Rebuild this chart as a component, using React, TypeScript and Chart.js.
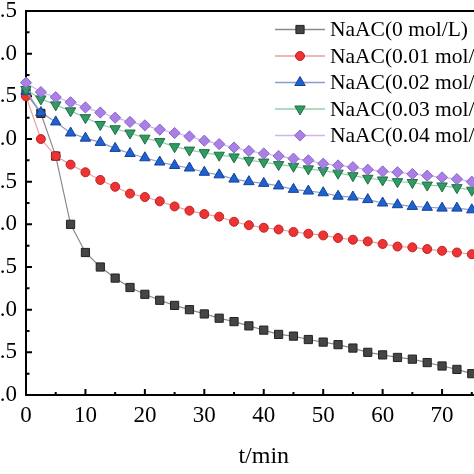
import React, { useEffect, useRef } from "react";
import { Chart, registerables } from "chart.js";

Chart.register(...registerables);

const times = [0, 2.5, 5, 7.5, 10, 12.5, 15, 17.5, 20, 22.5, 25, 27.5, 30, 32.5, 35, 37.5, 40, 42.5, 45, 47.5, 50, 52.5, 55, 57.5, 60, 62.5, 65, 67.5, 70, 72.5, 75];

const seriesNames = ["NaAC(0 mol/L)", "NaAC(0.01 mol/L)", "NaAC(0.02 mol/L)", "NaAC(0.03 mol/L)", "NaAC(0.04 mol/L)"];

const naac0 = [3.54, 3.30, 2.80, 2.00, 1.67, 1.50, 1.37, 1.26, 1.18, 1.11, 1.05, 1.00, 0.95, 0.90, 0.86, 0.81, 0.76, 0.71, 0.69, 0.65, 0.62, 0.59, 0.55, 0.50, 0.47, 0.44, 0.42, 0.38, 0.34, 0.30, 0.25];
const naac001 = [3.50, 3.00, 2.80, 2.70, 2.61, 2.52, 2.44, 2.36, 2.32, 2.27, 2.21, 2.16, 2.12, 2.09, 2.03, 1.99, 1.96, 1.94, 1.91, 1.89, 1.87, 1.84, 1.82, 1.80, 1.77, 1.74, 1.73, 1.71, 1.69, 1.67, 1.65];
const naac002 = [3.56, 3.31, 3.20, 3.07, 3.01, 2.96, 2.89, 2.83, 2.78, 2.73, 2.69, 2.66, 2.61, 2.58, 2.53, 2.50, 2.48, 2.45, 2.41, 2.39, 2.37, 2.33, 2.32, 2.29, 2.25, 2.23, 2.21, 2.20, 2.19, 2.19, 2.17];
const naac003 = [3.58, 3.47, 3.40, 3.33, 3.25, 3.17, 3.12, 3.07, 3.01, 2.97, 2.91, 2.87, 2.84, 2.81, 2.79, 2.75, 2.73, 2.70, 2.68, 2.65, 2.63, 2.60, 2.57, 2.54, 2.52, 2.50, 2.49, 2.46, 2.45, 2.43, 2.40];
const naac004 = [3.66, 3.55, 3.49, 3.43, 3.37, 3.31, 3.25, 3.20, 3.16, 3.11, 3.07, 3.03, 2.98, 2.94, 2.90, 2.86, 2.83, 2.80, 2.77, 2.75, 2.71, 2.69, 2.67, 2.64, 2.62, 2.61, 2.59, 2.57, 2.55, 2.53, 2.50];

const xTickMax = 80;
const yTickMax = 4.5;

const FONT = "'Liberation Serif', 'Times New Roman', serif";

const styles = [
  { fill: "#454545", border: "#222222", line: "#8a8a8a", point: "rect", radius: 5.8, rotation: 0 },
  { fill: "#ec3434", border: "#c42020", line: "#eaa0a0", point: "circle", radius: 4.5, rotation: 0 },
  { fill: "#1d62d2", border: "#173f95", line: "#8c9cc4", point: "triangle", radius: 6, rotation: 0 },
  { fill: "#2f9c62", border: "#1f6e46", line: "#96cfae", point: "triangle", radius: 6, rotation: 180 },
  { fill: "#a980e4", border: "#8f63cc", line: "#cdb6ec", point: "rectRot", radius: 5.6, rotation: 0 },
];

const seriesValues = [naac0, naac001, naac002, naac003, naac004];

function drawMarker(ctx: CanvasRenderingContext2D, kind: string, rot: number, x: number, y: number, r: number) {
  ctx.beginPath();
  if (kind === "rect") {
    const s = Math.SQRT1_2 * r;
    ctx.rect(x - s, y - s, 2 * s, 2 * s);
  } else if (kind === "circle") {
    ctx.arc(x, y, r, 0, Math.PI * 2);
  } else if (kind === "triangle") {
    let a = (rot * Math.PI) / 180;
    ctx.moveTo(x + Math.sin(a) * r, y - Math.cos(a) * r);
    a += (2 * Math.PI) / 3;
    ctx.lineTo(x + Math.sin(a) * r, y - Math.cos(a) * r);
    a += (2 * Math.PI) / 3;
    ctx.lineTo(x + Math.sin(a) * r, y - Math.cos(a) * r);
    ctx.closePath();
  } else if (kind === "rectRot") {
    ctx.moveTo(x - r, y);
    ctx.lineTo(x, y - r);
    ctx.lineTo(x + r, y);
    ctx.lineTo(x, y + r);
    ctx.closePath();
  }
  ctx.fill();
  ctx.stroke();
}

const framePlugin = {
  id: "frameTicks",
  beforeDatasetsDraw(chart: any) {
    const { ctx, chartArea, scales } = chart;
    const { left, right, top, bottom } = chartArea;
    const xs = scales.x;
    const ys = scales.y;
    ctx.save();
    ctx.strokeStyle = "#000";
    ctx.lineWidth = 2;
    ctx.strokeRect(left, top, right - left, bottom - top);
    ctx.beginPath();
    const xt = xs.ticks.map((t: any) => t.value);
    xt.forEach((v: number, i: number) => {
      const px = xs.getPixelForValue(v);
      ctx.moveTo(px, bottom);
      ctx.lineTo(px, bottom - 6);
      if (i < xt.length - 1) {
        const pm = xs.getPixelForValue((v + xt[i + 1]) / 2);
        ctx.moveTo(pm, bottom);
        ctx.lineTo(pm, bottom - 3);
      }
    });
    const yt = ys.ticks.map((t: any) => t.value);
    yt.forEach((v: number, i: number) => {
      const py = ys.getPixelForValue(v);
      ctx.moveTo(left, py);
      ctx.lineTo(left + 6, py);
      if (i < yt.length - 1) {
        const pm = ys.getPixelForValue((v + yt[i + 1]) / 2);
        ctx.moveTo(left, pm);
        ctx.lineTo(left + 3.5, pm);
      }
    });
    ctx.stroke();
    ctx.restore();
  },
  afterDraw(chart: any) {
    const { ctx } = chart;
    const lx0 = 315;
    const lx1 = 365;
    const tx = 370;
    const y0 = 29.5;
    const dy = 26.5;
    ctx.save();
    chart.data.datasets.forEach((ds: any, i: number) => {
      const st = styles[i];
      const y = y0 + i * dy;
      ctx.strokeStyle = st.line;
      ctx.lineWidth = 1.5;
      ctx.beginPath();
      ctx.moveTo(lx0, y);
      ctx.lineTo(lx1, y);
      ctx.stroke();
      ctx.fillStyle = st.fill;
      ctx.strokeStyle = st.border;
      ctx.lineWidth = 1;
      drawMarker(ctx, st.point, st.rotation, (lx0 + lx1) / 2, y, st.radius);
      ctx.fillStyle = "#000";
      ctx.font = `21.5px ${FONT}`;
      ctx.textBaseline = "middle";
      ctx.textAlign = "left";
      ctx.fillText(ds.label, tx, y + 1);
    });
    ctx.restore();
  },
};

export default function App() {
  const ref = useRef<HTMLCanvasElement | null>(null);

  useEffect(() => {
    if (!ref.current) return;
    const datasets = seriesValues.map((vals, i) => ({
      label: seriesNames[i],
      data: vals.map((v, j) => ({ x: times[j], y: v })),
      borderColor: styles[i].line,
      borderWidth: 1.2,
      backgroundColor: styles[i].fill,
      pointBackgroundColor: styles[i].fill,
      pointBorderColor: styles[i].border,
      pointBorderWidth: 1,
      pointStyle: styles[i].point,
      pointRotation: styles[i].rotation,
      pointRadius: styles[i].radius,
      pointHoverRadius: styles[i].radius,
      tension: 0,
      fill: false,
      clip: false as any,
      order: 5 - i,
    }));
    const chart = new Chart(ref.current, {
      type: "line",
      data: { datasets },
      plugins: [framePlugin],
      options: {
        animation: false,
        responsive: false,
        maintainAspectRatio: false,
        layout: { padding: { top: 11, right: 18, left: 0, bottom: 0 } },
        plugins: { legend: { display: false }, tooltip: { enabled: false }, title: { display: false } },
        scales: {
          x: {
            type: "linear",
            min: 0,
            max: xTickMax,
            grid: { display: false, drawTicks: false },
            border: { display: false },
            ticks: {
              stepSize: 10,
              padding: 7,
              color: "#000",
              font: { family: FONT, size: 23 },
              maxRotation: 0,
            },
            title: {
              display: true,
              text: "t/min",
              color: "#000",
              font: { family: FONT, size: 24 },
              padding: { top: 0, bottom: 3 },
            },
            afterFit(scale: any) {
              scale.height = 79;
            },
          },
          y: {
            type: "linear",
            min: 0,
            max: yTickMax,
            grid: { display: false, drawTicks: false },
            border: { display: false },
            ticks: {
              stepSize: 0.5,
              padding: 9,
              color: "#000",
              font: { family: FONT, size: 23, lineHeight: 0.1 },
              callback: (v: any) => Number(v).toFixed(1),
            },
            afterFit(scale: any) {
              scale.width = 66;
            },
          },
        },
      },
    });
    return () => chart.destroy();
  }, []);

  return (
    <div style={{ position: "fixed", left: 0, top: 0, width: 474, height: 474, overflow: "hidden", background: "#fff" }}>
      <canvas ref={ref} width={560} height={474} style={{ position: "absolute", left: -40, top: 0, width: 560, height: 474 }} />
    </div>
  );
}
